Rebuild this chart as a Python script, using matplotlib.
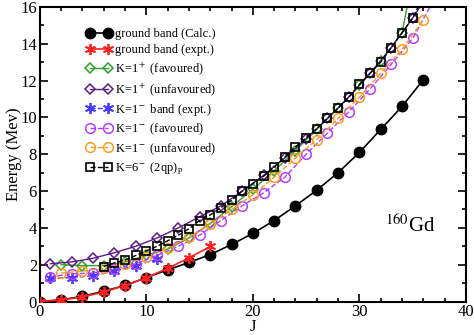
import matplotlib
matplotlib.use('Agg')
import matplotlib.pyplot as plt
from matplotlib.ticker import MultipleLocator

plt.rcParams['font.family'] = ['Liberation Serif', 'DejaVu Serif']
plt.rcParams['mathtext.fontset'] = 'stix'

# ground band, calculated
J_gs_calc = list(range(0, 37, 2))
E_gs_calc = [0.0, 0.09, 0.28, 0.56, 0.87, 1.3, 1.72, 2.12, 2.55, 3.1, 3.7, 4.4,
             5.2, 6.05, 7.0, 8.1, 9.35, 10.6, 12.05]

# ground band, experiment
J_gs_expt = list(range(0, 17, 2))
E_gs_expt = [0.0, 0.075, 0.248, 0.515, 0.868, 1.3, 1.8, 2.37, 2.99]

# K=1+ favoured (even J)
J_k1p_fav = list(range(2, 37, 2))
E_k1p_fav = [2.0, 1.95, 1.95, 2.15, 2.5, 2.85, 3.45, 4.25, 5.15, 6.1, 7.1, 8.2,
             9.35, 10.5, 11.75, 13.05, 14.6, 20.5]

# K=1+ unfavoured (odd J)
J_k1p_unf = list(range(1, 38, 2))
E_k1p_unf = [2.05, 2.15, 2.35, 2.65, 3.0, 3.45, 4.0, 4.6, 5.2, 6.0, 6.85, 7.8,
             8.85, 9.95, 11.1, 12.4, 13.8, 15.4, 17.2]

# K=1- band, experiment
J_k1m_expt = list(range(1, 12, 2))
E_k1m_expt = [1.25, 1.3, 1.4, 1.65, 1.95, 2.3]

# K=1- favoured (odd J)
J_k1m_fav = list(range(1, 38, 2))
E_k1m_fav = [1.35, 1.5, 1.55, 1.75, 2.05, 2.5, 3.0, 3.6, 4.4, 5.2, 5.9, 6.75,
             8.0, 9.15, 10.3, 11.55, 12.9, 14.3, 16.4]

# K=1- unfavoured (even J)
J_k1m_unf = list(range(2, 37, 2))
E_k1m_unf = [1.55, 1.65, 1.8, 2.05, 2.4, 2.9, 3.5, 4.2, 5.0, 5.8, 6.75, 7.8,
             8.8, 9.95, 11.1, 12.4, 13.7, 15.3]

# K=6- (2qp)_p
J_k6m = list(range(6, 37))
E_k6m = [1.9, 2.1, 2.25, 2.5, 2.75, 3.0, 3.3, 3.6, 3.95, 4.4, 4.7, 5.1, 5.5,
         6.0, 6.4, 6.8, 7.3, 7.85, 8.4, 8.9, 9.4, 9.95, 10.5, 11.1, 11.8, 12.4,
         13.0, 13.8, 14.6, 15.4, 16.6]

star = (6, 2, 0)  # asterisk marker

fig = plt.figure(figsize=(4.74, 3.35), dpi=100)
ax = fig.add_axes([0.084, 0.1, 0.899, 0.879])

ax.plot(J_gs_calc, E_gs_calc, '-o', color='black', ms=7.5, lw=1.2,
        label='ground band (Calc.)', zorder=3)
ax.plot(J_gs_expt, E_gs_expt, '-', marker=star, color='#ff2020', ms=8,
        mew=1.3, lw=1.2, label='ground band (expt.)', zorder=4)
ax.plot(J_k1p_fav, E_k1p_fav, '-D', color='#2ca02c', ms=5, lw=1.0,
        mfc='none', mew=1.1, label='K=1$^+$ (favoured)')
ax.plot(J_k1p_unf, E_k1p_unf, '-D', color='#5b1a86', ms=5, lw=1.0,
        mfc='none', mew=1.1, label='K=1$^+$ (unfavoured)')
ax.plot(J_k1m_expt, E_k1m_expt, '--', marker=star, color='#4a3cff', ms=8,
        mew=1.3, lw=1.0, label='K=1$^-$ band (expt.)')
ax.plot(J_k1m_fav, E_k1m_fav, '--o', color='#b040ff', ms=7, lw=1.0,
        mfc='none', mew=1.1, label='K=1$^-$ (favoured)')
ax.plot(J_k1m_unf, E_k1m_unf, '--o', color='#ff9a20', ms=7, lw=1.0,
        mfc='none', mew=1.1, label='K=1$^-$ (unfavoured)')
ax.plot(J_k6m, E_k6m, '--s', color='black', ms=6, lw=1.0,
        mfc='none', mew=1.2, label='K=6$^-$ (2qp)$_\\mathrm{p}$')

ax.set_xlim(0, 40)
ax.set_ylim(0, 16)
ax.xaxis.set_major_locator(MultipleLocator(10))
ax.xaxis.set_minor_locator(MultipleLocator(2))
ax.yaxis.set_major_locator(MultipleLocator(2))
ax.yaxis.set_minor_locator(MultipleLocator(1))
ax.tick_params(which='both', direction='in', top=True, right=True,
               labelsize=12, width=1.2, pad=2)
ax.tick_params(which='major', length=6)
ax.tick_params(which='minor', length=3)
for s in ax.spines.values():
    s.set_linewidth(1.5)

ax.set_xlabel('J', fontsize=12, labelpad=-1)
ax.set_ylabel('Energy (Mev)', fontsize=12, labelpad=-1)
ax.text(32.4, 4.1, '$^{160}$Gd', fontsize=15, va='center')

ax.legend(loc='upper left', bbox_to_anchor=(0.095, 0.95), frameon=False,
          fontsize=9, numpoints=2, handlelength=2.0, handletextpad=0.3,
          labelspacing=0.32, borderpad=0.0)

fig.savefig('out.png', dpi=100)
